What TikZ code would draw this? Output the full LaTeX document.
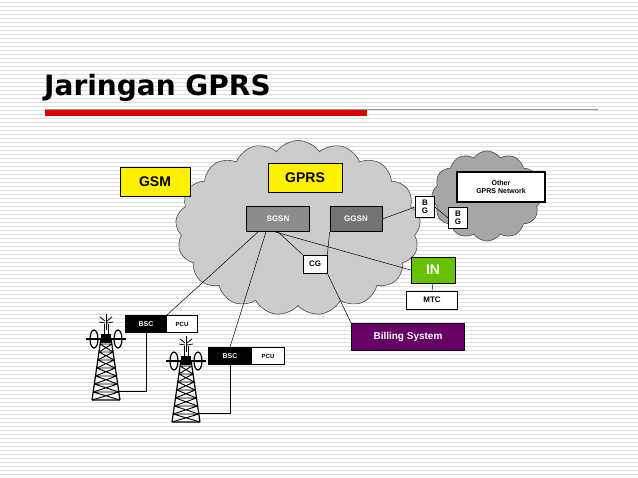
\documentclass[tikz,border=0pt]{standalone}
\usepackage{fontspec}
\setmainfont{Liberation Sans}
\newfontfamily\titlefont{DejaVu Sans}
\usetikzlibrary{shapes.symbols}
\begin{document}
\begin{tikzpicture}[x=1pt,y=-1pt,
  box/.style={draw,line width=0.8pt,inner sep=0,font=\bfseries\fontsize{8}{9}\selectfont},
  link/.style={line width=0.5pt},
  tower/.pic={
    \draw[line width=1.2pt] (-5,0) -- (-14,62) (5,0) -- (14,62) (-14,62)--(14,62);
    \foreach \y/\w in {6/5.9,14/7.1,22/8.2,30/9.4,38/10.5,46/11.7,54/12.8}{
      \draw[line width=0.9pt] (-\w,\y) -- (\w+1.1,\y+8) (\w,\y) -- (-\w-1.1,\y+8) (-\w,\y)--(\w,\y);}
    \draw[line width=0.8pt] (-2,-14)--(-2,0) (2,-14)--(2,0) (0,-24)--(0,-8);
    \draw[line width=0.8pt] (-7,-16)--(-1,-15) (7,-16)--(1,-15) (-6,-21)--(-1,-17) (6,-21)--(1,-17);
    \fill (-5,-4) rectangle (5,5);
    \draw[line width=1.2pt] (-12,1) ellipse (4 and 9) (12,1) ellipse (4 and 9);
    \draw[line width=1.2pt] (-20,1)--(20,1);
  }]
\useasboundingbox (0,0) rectangle (638,478);
\fill[white] (0,0) rectangle (638,478);
\foreach \y in {2,6,...,478} \draw[black!12,line width=0.6pt] (0,\y)--(638,\y);
\node[anchor=west,inner sep=0,font=\titlefont\bfseries\fontsize{28}{32}\selectfont] (title) at (44,88) {Jaringan GPRS};
\draw[black!40,line width=0.5pt] (45,109)--(598,109);
\fill[red!85!black] (45,110) rectangle (367,116);
% clouds
\node[cloud,cloud puffs=17,cloud puff arc=110,aspect=1.4,draw=black!70,fill=black!20,line width=0.6pt,minimum width=245pt,minimum height=175pt] (cloud) at (298,228) {};
\node[cloud,cloud puffs=12,cloud puff arc=110,aspect=1.2,draw=black!70,fill=black!35,line width=0.6pt,minimum width=110pt,minimum height=90pt] (cloud2) at (487,196) {};
% boxes
\node[box,fill=yellow,minimum width=70pt,minimum height=29pt,font=\bfseries\fontsize{14}{16}\selectfont] (gsm) at (155,182) {GSM};
\node[box,fill=yellow,minimum width=74pt,minimum height=29pt,font=\bfseries\fontsize{14}{16}\selectfont] (gprs) at (305,178) {GPRS};
\node[box,fill=black!45,text=white,minimum width=63pt,minimum height=25pt] (sgsn) at (278,219) {SGSN};
\node[box,fill=black!55,text=white,minimum width=52pt,minimum height=25pt] (ggsn) at (356,219) {GGSN};
\node[box,fill=white,minimum width=24pt,minimum height=18pt] (cg) at (315,264) {CG};
\node[box,fill=green!60!black!60!yellow,text=white,minimum width=44pt,minimum height=26pt,font=\bfseries\fontsize{14}{16}\selectfont] (in) at (433,270) {IN};
\node[box,fill=white,minimum width=51pt,minimum height=18pt] (mtc) at (432,300) {MTC};
\node[box,fill=violet!80!black,text=white,minimum width=113pt,minimum height=27pt,font=\bfseries\fontsize{10}{12}\selectfont] (bill) at (408,337) {Billing System};
\node[box,fill=white,minimum width=19pt,minimum height=21pt,align=center,font=\bfseries\fontsize{8}{8}\selectfont] (bg1) at (425,207) {B\\G};
\node[box,fill=white,minimum width=19pt,minimum height=21pt,align=center,font=\bfseries\fontsize{8}{8}\selectfont] (bg2) at (458,218) {B\\G};
\node[box,fill=white,line width=1.4pt,minimum width=88pt,minimum height=30pt,align=center,font=\bfseries\fontsize{7}{8}\selectfont] (other) at (501,187) {Other\\GPRS Network};
\node[box,fill=black,text=white,minimum width=41pt,minimum height=17pt,font=\bfseries\fontsize{7}{8}\selectfont] (bsc1) at (146,324) {BSC};
\node[box,fill=white,minimum width=31pt,minimum height=17pt,font=\bfseries\fontsize{6}{7}\selectfont] (pcu1) at (182,324) {PCU};
\node[box,fill=black,text=white,minimum width=44pt,minimum height=17pt,font=\bfseries\fontsize{7}{8}\selectfont] (bsc2) at (230,356) {BSC};
\node[box,fill=white,minimum width=33pt,minimum height=17pt,font=\bfseries\fontsize{6}{7}\selectfont] (pcu2) at (268,356) {PCU};
% links
\draw[link] (sgsn.south) ++(-20,0) coordinate (s1) (s1) -- (bsc1.north east);
\draw[link] (sgsn.south) ++(-12,0) coordinate (s2) (s2) -- (bsc2.north);
\draw[link] (sgsn.south) -- (cg.north west);
\draw[link] (sgsn.south) ++(-3,0) coordinate (s3) (s3) -- (in.west);
\draw[link] (ggsn.south west) -- (cg.north east);
\draw[link] (ggsn.east) -- (bg1.west);
\draw[link] (bg1.east) -- (bg2.west);
\draw[link] (cg.south east) -- (bill.north west);
\draw[link] (in.south) -- (mtc.north);
% towers
\pic at (106,338) {tower};
\pic at (186,360) {tower};
\coordinate (t1) at (117,392); \coordinate (t2) at (197,414);
\draw[line width=1pt] (bsc1.south) -- (bsc1.south |- t1) -- (t1);
\draw[line width=1pt] (bsc2.south) -- (bsc2.south |- t2) -- (t2);
\end{tikzpicture}
\end{document}
